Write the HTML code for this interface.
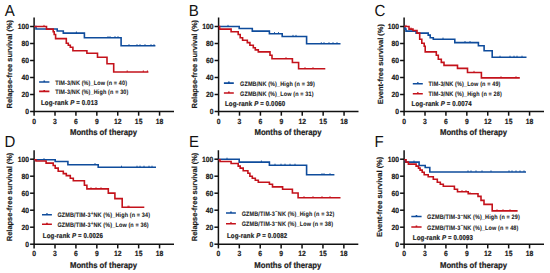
<!DOCTYPE html>
<html><head><meta charset="utf-8"><style>
html,body{margin:0;padding:0;background:#fff;width:550px;height:273px;overflow:hidden}
svg{display:block}
text{font-family:"Liberation Sans",sans-serif;fill:#1a1a1a;text-rendering:geometricPrecision;stroke:#1a1a1a;stroke-width:0.18px}
.let{font-size:15px;font-weight:normal;fill:#111;stroke:none}
.ax{font-size:7.75px;font-weight:bold}
.yt{font-size:7.45px;font-weight:bold}
.tk{font-size:6.8px;font-weight:bold}
.lg{font-size:5.5px;font-weight:bold;letter-spacing:0.12px;stroke-width:0.06px}
.lr{font-size:6.1px;font-weight:bold;letter-spacing:0.15px}
.axl{fill:none;stroke:#111;stroke-width:1.5}
</style></head><body>
<svg width="550" height="273" viewBox="0 0 550 273">
<rect width="550" height="273" fill="#fff"/>
<text transform="translate(4.7,15.7) scale(1,1.07)" class="let">A</text>
<text transform="translate(12,64.2) rotate(-90)" class="yt" text-anchor="middle">Relapse-free survival (%)</text>
<path d="M34.1 17.6V111.5H174" class="axl"/>
<path d="M30.1 111.5H34.1" class="axl"/>
<text transform="translate(29.1,114) scale(1,1.1)" class="tk" text-anchor="end">0</text>
<path d="M30.1 94.5H34.1" class="axl"/>
<text transform="translate(29.1,97) scale(1,1.1)" class="tk" text-anchor="end">20</text>
<path d="M30.1 77.5H34.1" class="axl"/>
<text transform="translate(29.1,80) scale(1,1.1)" class="tk" text-anchor="end">40</text>
<path d="M30.1 60.5H34.1" class="axl"/>
<text transform="translate(29.1,63) scale(1,1.1)" class="tk" text-anchor="end">60</text>
<path d="M30.1 43.5H34.1" class="axl"/>
<text transform="translate(29.1,46) scale(1,1.1)" class="tk" text-anchor="end">80</text>
<path d="M30.1 26.5H34.1" class="axl"/>
<text transform="translate(29.1,29) scale(1,1.1)" class="tk" text-anchor="end">100</text>
<path d="M34.1 111.5V115.7" class="axl"/>
<text transform="translate(34.1,123.6) scale(1,1.1)" class="tk" text-anchor="middle">0</text>
<path d="M55.01 111.5V115.7" class="axl"/>
<text transform="translate(55.01,123.6) scale(1,1.1)" class="tk" text-anchor="middle">3</text>
<path d="M75.92 111.5V115.7" class="axl"/>
<text transform="translate(75.92,123.6) scale(1,1.1)" class="tk" text-anchor="middle">6</text>
<path d="M96.83 111.5V115.7" class="axl"/>
<text transform="translate(96.83,123.6) scale(1,1.1)" class="tk" text-anchor="middle">9</text>
<path d="M117.74 111.5V115.7" class="axl"/>
<text transform="translate(117.74,123.6) scale(1,1.1)" class="tk" text-anchor="middle">12</text>
<path d="M138.65 111.5V115.7" class="axl"/>
<text transform="translate(138.65,123.6) scale(1,1.1)" class="tk" text-anchor="middle">15</text>
<path d="M159.56 111.5V115.7" class="axl"/>
<text transform="translate(159.56,123.6) scale(1,1.1)" class="tk" text-anchor="middle">18</text>
<text transform="translate(103.5,134.8) scale(1,1.1)" class="ax" text-anchor="middle">Months of therapy</text>
<path d="M34.1 26.5H36V29H57.2V31H63.3V33.1H84.4V37.8H121.1V45.8H155.4" fill="none" stroke="#0f4c9c" stroke-width="1.6"/>
<path d="M76.4 33.1v-1.6M108 37.8v-1.6M110 37.8v-1.6M115 37.8v-1.6M118 37.8v-1.6M129 45.8v-1.6M137 45.8v-1.6M140 45.8v-1.6M145 45.8v-1.6M151 45.8v-1.6M154 45.8v-1.6" fill="none" stroke="#0f4c9c" stroke-width="0.9"/>
<path d="M34.1 26.5H46.5V29.1H53.2V31.7H54.2V34.5H55.6V38.6H66.3V43.2H68.3V45.2H70.3V47.2H72.9V50.7H86.9V53.3H97.5V57.3H107V63.8H113.7V72H148.4" fill="none" stroke="#c4121b" stroke-width="1.6"/>
<path d="M44 26.5v-1.6M127.2 72v-1.6M143.3 72v-1.6M147.4 72v-1.6" fill="none" stroke="#c4121b" stroke-width="0.9"/>
<path d="M39.1 82H49.4M44.25 82v-1.5" fill="none" stroke="#0f4c9c" stroke-width="1.6"/>
<text transform="translate(55.2,84.7) scale(1,1.15)" class="lg">TIM-3/NK (%)_Low (n = 40)</text>
<path d="M39.1 91.4H49.4M44.25 91.4v-1.5" fill="none" stroke="#c4121b" stroke-width="1.6"/>
<text transform="translate(55.2,94.1) scale(1,1.15)" class="lg">TIM-3/NK (%)_High (n = 30)</text>
<text transform="translate(41,105.1) scale(1,1.15)" class="lr">Log-rank <tspan font-style="italic">P</tspan> = 0.013</text>
<text transform="translate(188.8,15.7) scale(1,1.07)" class="let">B</text>
<text transform="translate(197,64.2) rotate(-90)" class="yt" text-anchor="middle">Relapse-free survival (%)</text>
<path d="M218.6 17.6V111.5H358.5" class="axl"/>
<path d="M214.6 111.5H218.6" class="axl"/>
<text transform="translate(213.6,114) scale(1,1.1)" class="tk" text-anchor="end">0</text>
<path d="M214.6 94.5H218.6" class="axl"/>
<text transform="translate(213.6,97) scale(1,1.1)" class="tk" text-anchor="end">20</text>
<path d="M214.6 77.5H218.6" class="axl"/>
<text transform="translate(213.6,80) scale(1,1.1)" class="tk" text-anchor="end">40</text>
<path d="M214.6 60.5H218.6" class="axl"/>
<text transform="translate(213.6,63) scale(1,1.1)" class="tk" text-anchor="end">60</text>
<path d="M214.6 43.5H218.6" class="axl"/>
<text transform="translate(213.6,46) scale(1,1.1)" class="tk" text-anchor="end">80</text>
<path d="M214.6 26.5H218.6" class="axl"/>
<text transform="translate(213.6,29) scale(1,1.1)" class="tk" text-anchor="end">100</text>
<path d="M218.6 111.5V115.7" class="axl"/>
<text transform="translate(218.6,123.6) scale(1,1.1)" class="tk" text-anchor="middle">0</text>
<path d="M239.51 111.5V115.7" class="axl"/>
<text transform="translate(239.51,123.6) scale(1,1.1)" class="tk" text-anchor="middle">3</text>
<path d="M260.42 111.5V115.7" class="axl"/>
<text transform="translate(260.42,123.6) scale(1,1.1)" class="tk" text-anchor="middle">6</text>
<path d="M281.33 111.5V115.7" class="axl"/>
<text transform="translate(281.33,123.6) scale(1,1.1)" class="tk" text-anchor="middle">9</text>
<path d="M302.24 111.5V115.7" class="axl"/>
<text transform="translate(302.24,123.6) scale(1,1.1)" class="tk" text-anchor="middle">12</text>
<path d="M323.15 111.5V115.7" class="axl"/>
<text transform="translate(323.15,123.6) scale(1,1.1)" class="tk" text-anchor="middle">15</text>
<path d="M344.06 111.5V115.7" class="axl"/>
<text transform="translate(344.06,123.6) scale(1,1.1)" class="tk" text-anchor="middle">18</text>
<text transform="translate(288,134.8) scale(1,1.1)" class="ax" text-anchor="middle">Months of therapy</text>
<path d="M218.6 26.5H239.2V28.5H252.3V31.1H269.4V33.7H282.2V36.5H306.6V43.8H340.5" fill="none" stroke="#0f4c9c" stroke-width="1.6"/>
<path d="M228 26.5v-1.6M274.5 33.7v-1.6M278.5 33.7v-1.6M293 36.5v-1.6M296 36.5v-1.6M321.3 43.8v-1.6M324 43.8v-1.6M329 43.8v-1.6M333 43.8v-1.6M337 43.8v-1.6" fill="none" stroke="#0f4c9c" stroke-width="0.9"/>
<path d="M218.6 26.5H219.6V29.1H231.1V31.7H238.2V34.5H240.2V37.8H242.6V40.2H247.3V42.6H249.9V45.2H253.3V47.8H255.3V49.9H258.3V51.9H270V55.3H272V58.8H292.4V62.5H298.6V68.8H325.3" fill="none" stroke="#c4121b" stroke-width="1.6"/>
<path d="M286 58.8v-1.6M305 68.8v-1.6M313 68.8v-1.6" fill="none" stroke="#c4121b" stroke-width="0.9"/>
<path d="M223.9 83.1H233.8M228.85 83.1v-1.5" fill="none" stroke="#0f4c9c" stroke-width="1.6"/>
<text transform="translate(240,85.8) scale(1,1.15)" class="lg">GZMB/NK (%)_High (n = 39)</text>
<path d="M223.9 93H233.8M228.85 93v-1.5" fill="none" stroke="#c4121b" stroke-width="1.6"/>
<text transform="translate(240,95.7) scale(1,1.15)" class="lg">GZMB/NK (%)_Low (n = 31)</text>
<text transform="translate(225,106.2) scale(1,1.15)" class="lr">Log-rank <tspan font-style="italic">P</tspan> = 0.0060</text>
<text transform="translate(374.4,15.5) scale(1,1.07)" class="let">C</text>
<text transform="translate(382.6,64.2) rotate(-90)" class="yt" text-anchor="middle">Event-free survival (%)</text>
<path d="M404.1 17.6V111.5H544" class="axl"/>
<path d="M400.1 111.5H404.1" class="axl"/>
<text transform="translate(399.1,114) scale(1,1.1)" class="tk" text-anchor="end">0</text>
<path d="M400.1 94.5H404.1" class="axl"/>
<text transform="translate(399.1,97) scale(1,1.1)" class="tk" text-anchor="end">20</text>
<path d="M400.1 77.5H404.1" class="axl"/>
<text transform="translate(399.1,80) scale(1,1.1)" class="tk" text-anchor="end">40</text>
<path d="M400.1 60.5H404.1" class="axl"/>
<text transform="translate(399.1,63) scale(1,1.1)" class="tk" text-anchor="end">60</text>
<path d="M400.1 43.5H404.1" class="axl"/>
<text transform="translate(399.1,46) scale(1,1.1)" class="tk" text-anchor="end">80</text>
<path d="M400.1 26.5H404.1" class="axl"/>
<text transform="translate(399.1,29) scale(1,1.1)" class="tk" text-anchor="end">100</text>
<path d="M404.1 111.5V115.7" class="axl"/>
<text transform="translate(404.1,123.6) scale(1,1.1)" class="tk" text-anchor="middle">0</text>
<path d="M425.01 111.5V115.7" class="axl"/>
<text transform="translate(425.01,123.6) scale(1,1.1)" class="tk" text-anchor="middle">3</text>
<path d="M445.92 111.5V115.7" class="axl"/>
<text transform="translate(445.92,123.6) scale(1,1.1)" class="tk" text-anchor="middle">6</text>
<path d="M466.83 111.5V115.7" class="axl"/>
<text transform="translate(466.83,123.6) scale(1,1.1)" class="tk" text-anchor="middle">9</text>
<path d="M487.74 111.5V115.7" class="axl"/>
<text transform="translate(487.74,123.6) scale(1,1.1)" class="tk" text-anchor="middle">12</text>
<path d="M508.65 111.5V115.7" class="axl"/>
<text transform="translate(508.65,123.6) scale(1,1.1)" class="tk" text-anchor="middle">15</text>
<path d="M529.56 111.5V115.7" class="axl"/>
<text transform="translate(529.56,123.6) scale(1,1.1)" class="tk" text-anchor="middle">18</text>
<text transform="translate(473.5,134.8) scale(1,1.1)" class="ax" text-anchor="middle">Months of therapy</text>
<path d="M404.1 26.5H405V29.1H406V31.1H416.1V33.1H428.2V35.1H430.2V37.8H433.3V39.2H454.8V42.6H478.4V45.8H484.1V50.7H492.2V57.3H526.5" fill="none" stroke="#0f4c9c" stroke-width="1.6"/>
<path d="M443 39.2v-1.6M465 42.6v-1.6M470 42.6v-1.6M500 57.3v-1.6M510 57.3v-1.6M514 57.3v-1.6M517 57.3v-1.6M522 57.3v-1.6" fill="none" stroke="#0f4c9c" stroke-width="0.9"/>
<path d="M404.1 26.5H409V29.1H413V30.5H417V33.1H419.7V39.2H421.8V43.2H424.2V46.2H425.2V51.9H436.3V55.3H438.3V59.3H441.3V62.4H444V65.4H457.5V68.4H467.5V72.5H481.4V77.9H519.8" fill="none" stroke="#c4121b" stroke-width="1.6"/>
<path d="M406 26.5v-1.6M411 29.1v-1.6M474 72.5v-1.6M501 77.9v-1.6M516 77.9v-1.6" fill="none" stroke="#c4121b" stroke-width="0.9"/>
<path d="M412.8 83.7H422.8M417.8 83.7v-1.5" fill="none" stroke="#0f4c9c" stroke-width="1.6"/>
<text transform="translate(428.6,86.4) scale(1,1.15)" class="lg">TIM-3/NK (%)_Low (n = 49)</text>
<path d="M412.8 93.7H422.8M417.8 93.7v-1.5" fill="none" stroke="#c4121b" stroke-width="1.6"/>
<text transform="translate(428.6,96.4) scale(1,1.15)" class="lg">TIM-3/NK (%)_High (n = 28)</text>
<text transform="translate(411.6,106.2) scale(1,1.15)" class="lr">Log-rank <tspan font-style="italic">P</tspan> = 0.0074</text>
<text transform="translate(4.6,147.2) scale(1,1.07)" class="let">D</text>
<text transform="translate(12,196.9) rotate(-90)" class="yt" text-anchor="middle">Relapse-free survival (%)</text>
<path d="M34.1 150.3V244.2H174" class="axl"/>
<path d="M30.1 244.2H34.1" class="axl"/>
<text transform="translate(29.1,246.7) scale(1,1.1)" class="tk" text-anchor="end">0</text>
<path d="M30.1 227.2H34.1" class="axl"/>
<text transform="translate(29.1,229.7) scale(1,1.1)" class="tk" text-anchor="end">20</text>
<path d="M30.1 210.2H34.1" class="axl"/>
<text transform="translate(29.1,212.7) scale(1,1.1)" class="tk" text-anchor="end">40</text>
<path d="M30.1 193.2H34.1" class="axl"/>
<text transform="translate(29.1,195.7) scale(1,1.1)" class="tk" text-anchor="end">60</text>
<path d="M30.1 176.2H34.1" class="axl"/>
<text transform="translate(29.1,178.7) scale(1,1.1)" class="tk" text-anchor="end">80</text>
<path d="M30.1 159.2H34.1" class="axl"/>
<text transform="translate(29.1,161.7) scale(1,1.1)" class="tk" text-anchor="end">100</text>
<path d="M34.1 244.2V248.4" class="axl"/>
<text transform="translate(34.1,256.3) scale(1,1.1)" class="tk" text-anchor="middle">0</text>
<path d="M55.01 244.2V248.4" class="axl"/>
<text transform="translate(55.01,256.3) scale(1,1.1)" class="tk" text-anchor="middle">3</text>
<path d="M75.92 244.2V248.4" class="axl"/>
<text transform="translate(75.92,256.3) scale(1,1.1)" class="tk" text-anchor="middle">6</text>
<path d="M96.83 244.2V248.4" class="axl"/>
<text transform="translate(96.83,256.3) scale(1,1.1)" class="tk" text-anchor="middle">9</text>
<path d="M117.74 244.2V248.4" class="axl"/>
<text transform="translate(117.74,256.3) scale(1,1.1)" class="tk" text-anchor="middle">12</text>
<path d="M138.65 244.2V248.4" class="axl"/>
<text transform="translate(138.65,256.3) scale(1,1.1)" class="tk" text-anchor="middle">15</text>
<path d="M159.56 244.2V248.4" class="axl"/>
<text transform="translate(159.56,256.3) scale(1,1.1)" class="tk" text-anchor="middle">18</text>
<text transform="translate(103.5,267.5) scale(1,1.1)" class="ax" text-anchor="middle">Months of therapy</text>
<path d="M34.1 159.8H55.2V161.5H67.9V164.7H98.2V167.3H156" fill="none" stroke="#0f4c9c" stroke-width="1.6"/>
<path d="M44 159.8v-1.6M95 164.7v-1.6M121.5 167.3v-1.6M137 167.3v-1.6M140 167.3v-1.6M144 167.3v-1.6M149 167.3v-1.6M152 167.3v-1.6" fill="none" stroke="#0f4c9c" stroke-width="0.9"/>
<path d="M34.1 159.8H36V161H46.1V163.1H53.2V165.5H55.2V168.1H58.2V171.2H63.3V173.6H66.3V175.6H70.3V178.2H73.3V180.8H84.4V185.3H86.9V188.9H108.3V193.1H114.9V198.6H122.2V207.3H144.3" fill="none" stroke="#c4121b" stroke-width="1.6"/>
<path d="M91 188.9v-1.6M96 188.9v-1.6M101 188.9v-1.6M128 207.3v-1.6M129 207.3v-1.6" fill="none" stroke="#c4121b" stroke-width="0.9"/>
<path d="M42 214.7H51.9M46.95 214.7v-1.5" fill="none" stroke="#0f4c9c" stroke-width="1.6"/>
<text transform="translate(57.4,217.4) scale(1,1.15)" class="lg">GZMB/TIM-3<tspan font-size="4.6" dy="-2.0">+</tspan><tspan dy="2.0">NK (%)_High (n = 34)</tspan></text>
<path d="M42 224.3H51.9M46.95 224.3v-1.5" fill="none" stroke="#c4121b" stroke-width="1.6"/>
<text transform="translate(57.4,227) scale(1,1.15)" class="lg">GZMB/TIM-3<tspan font-size="4.6" dy="-2.0">+</tspan><tspan dy="2.0">NK (%)_Low (n = 36)</tspan></text>
<text transform="translate(42.8,238.4) scale(1,1.15)" class="lr">Log-rank <tspan font-style="italic">P</tspan> = 0.0026</text>
<text transform="translate(188.9,147.2) scale(1,1.07)" class="let">E</text>
<text transform="translate(196.5,196.9) rotate(-90)" class="yt" text-anchor="middle">Relapse-free survival (%)</text>
<path d="M218.4 150.3V244.2H358.3" class="axl"/>
<path d="M214.4 244.2H218.4" class="axl"/>
<text transform="translate(213.4,246.7) scale(1,1.1)" class="tk" text-anchor="end">0</text>
<path d="M214.4 227.2H218.4" class="axl"/>
<text transform="translate(213.4,229.7) scale(1,1.1)" class="tk" text-anchor="end">20</text>
<path d="M214.4 210.2H218.4" class="axl"/>
<text transform="translate(213.4,212.7) scale(1,1.1)" class="tk" text-anchor="end">40</text>
<path d="M214.4 193.2H218.4" class="axl"/>
<text transform="translate(213.4,195.7) scale(1,1.1)" class="tk" text-anchor="end">60</text>
<path d="M214.4 176.2H218.4" class="axl"/>
<text transform="translate(213.4,178.7) scale(1,1.1)" class="tk" text-anchor="end">80</text>
<path d="M214.4 159.2H218.4" class="axl"/>
<text transform="translate(213.4,161.7) scale(1,1.1)" class="tk" text-anchor="end">100</text>
<path d="M218.4 244.2V248.4" class="axl"/>
<text transform="translate(218.4,256.3) scale(1,1.1)" class="tk" text-anchor="middle">0</text>
<path d="M239.31 244.2V248.4" class="axl"/>
<text transform="translate(239.31,256.3) scale(1,1.1)" class="tk" text-anchor="middle">3</text>
<path d="M260.22 244.2V248.4" class="axl"/>
<text transform="translate(260.22,256.3) scale(1,1.1)" class="tk" text-anchor="middle">6</text>
<path d="M281.13 244.2V248.4" class="axl"/>
<text transform="translate(281.13,256.3) scale(1,1.1)" class="tk" text-anchor="middle">9</text>
<path d="M302.04 244.2V248.4" class="axl"/>
<text transform="translate(302.04,256.3) scale(1,1.1)" class="tk" text-anchor="middle">12</text>
<path d="M322.95 244.2V248.4" class="axl"/>
<text transform="translate(322.95,256.3) scale(1,1.1)" class="tk" text-anchor="middle">15</text>
<path d="M343.86 244.2V248.4" class="axl"/>
<text transform="translate(343.86,256.3) scale(1,1.1)" class="tk" text-anchor="middle">18</text>
<text transform="translate(287.8,267.5) scale(1,1.1)" class="ax" text-anchor="middle">Months of therapy</text>
<path d="M218.4 159.3H239.2V162.1H269.4V165.3H306.6V174.8H334.4" fill="none" stroke="#0f4c9c" stroke-width="1.6"/>
<path d="M227 159.3v-1.6M261.4 162.1v-1.6M275 165.3v-1.6M281 165.3v-1.6M285 165.3v-1.6M290 165.3v-1.6M295 165.3v-1.6M322 174.8v-1.6M324 174.8v-1.6M330 174.8v-1.6" fill="none" stroke="#0f4c9c" stroke-width="0.9"/>
<path d="M218.4 159.8H220V161.5H231.1V163.5H238.2V166.1H240.2V168.1H243.2V170.8H247.9V173.2H249.9V176.2H252.3V178.2H255.3V180.2H258.3V182.3H269.4V184.3H272.5V186.9H282.6V189.3H292.4V193H298.1V197.8H340.5" fill="none" stroke="#c4121b" stroke-width="1.6"/>
<path d="M304 197.8v-1.6M313 197.8v-1.6M322 197.8v-1.6M330 197.8v-1.6" fill="none" stroke="#c4121b" stroke-width="0.9"/>
<path d="M226 213H235.9M230.95 213v-1.5" fill="none" stroke="#0f4c9c" stroke-width="1.6"/>
<text transform="translate(241.7,215.7) scale(1,1.15)" class="lg">GZMB/TIM-3<tspan font-size="4.6" dy="-2.0">−</tspan><tspan dy="2.0">NK (%)_High (n = 32)</tspan></text>
<path d="M226 223.7H235.9M230.95 223.7v-1.5" fill="none" stroke="#c4121b" stroke-width="1.6"/>
<text transform="translate(241.7,226.4) scale(1,1.15)" class="lg">GZMB/TIM-3<tspan font-size="4.6" dy="-2.0">−</tspan><tspan dy="2.0">NK (%)_Low (n = 38)</tspan></text>
<text transform="translate(227,238) scale(1,1.15)" class="lr">Log-rank <tspan font-style="italic">P</tspan> = 0.0082</text>
<text transform="translate(374.6,146.9) scale(1,1.07)" class="let">F</text>
<text transform="translate(382,196.9) rotate(-90)" class="yt" text-anchor="middle">Event-free survival (%)</text>
<path d="M404.1 150.3V244.2H544" class="axl"/>
<path d="M400.1 244.2H404.1" class="axl"/>
<text transform="translate(399.1,246.7) scale(1,1.1)" class="tk" text-anchor="end">0</text>
<path d="M400.1 227.2H404.1" class="axl"/>
<text transform="translate(399.1,229.7) scale(1,1.1)" class="tk" text-anchor="end">20</text>
<path d="M400.1 210.2H404.1" class="axl"/>
<text transform="translate(399.1,212.7) scale(1,1.1)" class="tk" text-anchor="end">40</text>
<path d="M400.1 193.2H404.1" class="axl"/>
<text transform="translate(399.1,195.7) scale(1,1.1)" class="tk" text-anchor="end">60</text>
<path d="M400.1 176.2H404.1" class="axl"/>
<text transform="translate(399.1,178.7) scale(1,1.1)" class="tk" text-anchor="end">80</text>
<path d="M400.1 159.2H404.1" class="axl"/>
<text transform="translate(399.1,161.7) scale(1,1.1)" class="tk" text-anchor="end">100</text>
<path d="M404.1 244.2V248.4" class="axl"/>
<text transform="translate(404.1,256.3) scale(1,1.1)" class="tk" text-anchor="middle">0</text>
<path d="M425.01 244.2V248.4" class="axl"/>
<text transform="translate(425.01,256.3) scale(1,1.1)" class="tk" text-anchor="middle">3</text>
<path d="M445.92 244.2V248.4" class="axl"/>
<text transform="translate(445.92,256.3) scale(1,1.1)" class="tk" text-anchor="middle">6</text>
<path d="M466.83 244.2V248.4" class="axl"/>
<text transform="translate(466.83,256.3) scale(1,1.1)" class="tk" text-anchor="middle">9</text>
<path d="M487.74 244.2V248.4" class="axl"/>
<text transform="translate(487.74,256.3) scale(1,1.1)" class="tk" text-anchor="middle">12</text>
<path d="M508.65 244.2V248.4" class="axl"/>
<text transform="translate(508.65,256.3) scale(1,1.1)" class="tk" text-anchor="middle">15</text>
<path d="M529.56 244.2V248.4" class="axl"/>
<text transform="translate(529.56,256.3) scale(1,1.1)" class="tk" text-anchor="middle">18</text>
<text transform="translate(473.5,267.5) scale(1,1.1)" class="ax" text-anchor="middle">Months of therapy</text>
<path d="M404.1 159.8H405.6V162.1H419.1V165.5H425.2V167.5H429.8V172H526" fill="none" stroke="#0f4c9c" stroke-width="1.6"/>
<path d="M414 162.1v-1.6M468 172v-1.6M471 172v-1.6M476 172v-1.6M482 172v-1.6M491 172v-1.6M509 172v-1.6M512 172v-1.6M516 172v-1.6M520 172v-1.6M524 172v-1.6" fill="none" stroke="#0f4c9c" stroke-width="0.9"/>
<path d="M404.1 159.8H406V162.1H408.4V164.1H416.1V166.1H418.5V168.1H420.1V170.1H422.2V172.2H424.2V174.8H428.2V176.8H433.3V179.2H437.3V182.3H440.3V184.3H443.3V186.3H454.4V189.3H457.5V191.7H468.2V193.8H478V196.4H481V200.4H484V204.4H492.2V210.9H517.6" fill="none" stroke="#c4121b" stroke-width="1.6"/>
<path d="M462 191.7v-1.6M466 191.7v-1.6M470 193.8v-1.6M497 210.9v-1.6M503 210.9v-1.6M510 210.9v-1.6" fill="none" stroke="#c4121b" stroke-width="0.9"/>
<path d="M411.3 216.5H421.6M416.45 216.5v-1.5" fill="none" stroke="#0f4c9c" stroke-width="1.6"/>
<text transform="translate(427.1,219.2) scale(1,1.15)" class="lg">GZMB/TIM-3<tspan font-size="4.6" dy="-2.0">−</tspan><tspan dy="2.0">NK (%)_High (n = 29)</tspan></text>
<path d="M411.3 227H421.6M416.45 227v-1.5" fill="none" stroke="#c4121b" stroke-width="1.6"/>
<text transform="translate(427.1,229.7) scale(1,1.15)" class="lg">GZMB/TIM-3<tspan font-size="4.6" dy="-2.0">−</tspan><tspan dy="2.0">NK (%)_Low (n = 48)</tspan></text>
<text transform="translate(412.8,240) scale(1,1.15)" class="lr">Log-rank <tspan font-style="italic">P</tspan> = 0.0093</text>
</svg>
</body></html>
